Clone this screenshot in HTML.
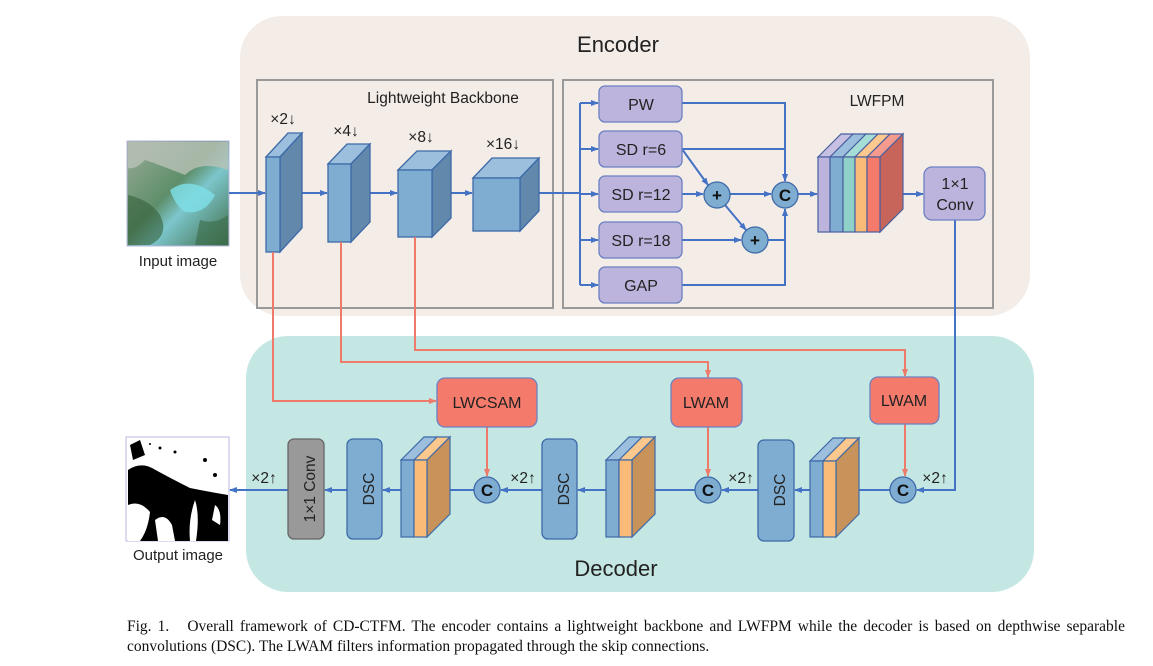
<!DOCTYPE html>
<html><head><meta charset="utf-8"><style>
html,body{margin:0;padding:0;background:#fff;}
svg{display:block;font-family:"Liberation Sans",sans-serif;}
.cap{position:absolute;left:127px;width:998px;font-family:"Liberation Serif",serif;font-size:15.5px;color:#111;text-align:justify;text-align-last:justify;line-height:20px;}
</style></head><body>
<div style="position:relative;width:1153px;height:666px;overflow:hidden">
<svg width="1153" height="666" viewBox="0 0 1153 666">
<defs>
<marker id="ab" markerWidth="8" markerHeight="8" refX="7" refY="4" orient="auto" markerUnits="userSpaceOnUse"><path d="M0,1 L8,4 L0,7 Z" fill="#4472c4"/></marker>
<marker id="ar" markerWidth="8" markerHeight="8" refX="7" refY="4" orient="auto" markerUnits="userSpaceOnUse"><path d="M0,1 L8,4 L0,7 Z" fill="#ee7b6a"/></marker>
<linearGradient id="gi" x1="0" y1="0" x2="1" y2="1"><stop offset="0" stop-color="#9aab98"/><stop offset="0.45" stop-color="#5e8f6a"/><stop offset="0.6" stop-color="#7cc6cc"/><stop offset="1" stop-color="#3f6b45"/></linearGradient>
</defs>
<rect x="240" y="16" width="790" height="300" rx="42" fill="#f3ece7"/>
<rect x="246" y="336" width="788" height="256" rx="42" fill="#c5e7e3"/>
<text x="618" y="52" font-size="22" text-anchor="middle" fill="#222">Encoder</text>
<text x="616" y="576" font-size="22" text-anchor="middle" fill="#222">Decoder</text>
<rect x="257" y="80" width="296" height="228" fill="none" stroke="#999" stroke-width="2"/>
<rect x="563" y="80" width="430" height="228" fill="none" stroke="#999" stroke-width="2"/>
<text x="443" y="103" font-size="15.5" text-anchor="middle" fill="#222">Lightweight Backbone</text>
<text x="877" y="106" font-size="15.5" text-anchor="middle" fill="#222">LWFPM</text>

<!-- input image -->
<rect x="127" y="141" width="102" height="105" fill="url(#gi)" stroke="#b8b8e0"/>
<path d="M128,142 L228,142 L228,170 Q200,160 185,175 Q160,165 145,160 Q135,170 128,168Z" fill="#b9c2b6" opacity=".8"/>
<path d="M170,190 Q190,175 215,195 Q205,215 185,212 Q175,205 170,190Z" fill="#7fe0e8" opacity=".8"/>
<path d="M128,195 Q150,200 160,215 Q170,235 150,245 L128,245Z" fill="#355f3a" opacity=".6"/>
<path d="M200,220 Q215,225 228,215 L228,245 L195,245Z" fill="#3b6a47" opacity=".6"/>
<text x="178" y="266" font-size="15" text-anchor="middle" fill="#222">Input image</text>
<!-- output image -->
<rect x="126" y="437" width="103" height="104" fill="#fff" stroke="#b8b8e0"/>
<path d="M128,470 Q140,462 152,468 Q170,478 190,488 Q210,492 228,495 L228,541 L128,541Z" fill="#000"/>
<path d="M130,445 L140,440 L145,455 L133,460Z" fill="#000"/>
<path d="M128,505 Q140,500 150,512 Q148,530 140,541 L128,541Z" fill="#fff"/>
<path d="M155,520 Q165,512 172,525 L175,541 L158,541Z" fill="#fff"/>
<path d="M195,500 Q200,515 196,541 L190,541 Q188,520 195,500Z" fill="#fff"/>
<path d="M215,505 Q222,510 220,525 L212,520Z" fill="#fff"/>
<g fill="#000"><circle cx="160" cy="448" r="1.5"/><circle cx="175" cy="452" r="1.5"/><circle cx="205" cy="460" r="2"/><circle cx="215" cy="475" r="2"/><circle cx="150" cy="444" r="1"/></g>
<text x="178" y="560" font-size="15" text-anchor="middle" fill="#222">Output image</text>

<!-- backbone lines -->
<g stroke="#4472c4" stroke-width="2" fill="none">
<line x1="229" y1="193" x2="265" y2="193" marker-end="url(#ab)"/>
<line x1="302" y1="193" x2="327" y2="193" marker-end="url(#ab)"/>
<line x1="370" y1="193" x2="397" y2="193" marker-end="url(#ab)"/>
<line x1="451" y1="193" x2="472" y2="193" marker-end="url(#ab)"/>
<line x1="539" y1="193" x2="580" y2="193"/>
<line x1="580" y1="103" x2="580" y2="285"/>
<line x1="580" y1="103" x2="598" y2="103" marker-end="url(#ab)"/>
<line x1="580" y1="149" x2="598" y2="149" marker-end="url(#ab)"/>
<line x1="580" y1="194" x2="598" y2="194" marker-end="url(#ab)"/>
<line x1="580" y1="240" x2="598" y2="240" marker-end="url(#ab)"/>
<line x1="580" y1="285" x2="598" y2="285" marker-end="url(#ab)"/>
<polyline points="682,103 785,103 785,181" marker-end="url(#ab)"/>
<line x1="682" y1="149" x2="785" y2="149"/>
<line x1="682" y1="149" x2="708" y2="185" marker-end="url(#ab)"/>
<line x1="682" y1="194" x2="703" y2="194" marker-end="url(#ab)"/>
<line x1="730" y1="194" x2="771" y2="194" marker-end="url(#ab)"/>
<line x1="725" y1="205" x2="746" y2="230" marker-end="url(#ab)"/>
<line x1="682" y1="240" x2="741" y2="240" marker-end="url(#ab)"/>
<polyline points="682,285 785,285 785,209" marker-end="url(#ab)"/>
<line x1="768" y1="240" x2="785" y2="240"/>
<line x1="798" y1="194" x2="817" y2="194" marker-end="url(#ab)"/>
<line x1="903" y1="194" x2="923" y2="194" marker-end="url(#ab)"/>
<polyline points="955,220 955,490 917,490" marker-end="url(#ab)"/>
<line x1="890" y1="490" x2="848" y2="490" marker-end="url(#ab)"/>
<line x1="810" y1="490" x2="795" y2="490" marker-end="url(#ab)"/>
<line x1="758" y1="490" x2="722" y2="490" marker-end="url(#ab)"/>
<line x1="695" y1="490" x2="644" y2="490" marker-end="url(#ab)"/>
<line x1="606" y1="490" x2="578" y2="490" marker-end="url(#ab)"/>
<line x1="542" y1="490" x2="501" y2="490" marker-end="url(#ab)"/>
<line x1="474" y1="490" x2="439" y2="490" marker-end="url(#ab)"/>
<line x1="401" y1="490" x2="383" y2="490" marker-end="url(#ab)"/>
<line x1="347" y1="490" x2="325" y2="490" marker-end="url(#ab)"/>
<line x1="288" y1="490" x2="230" y2="490" marker-end="url(#ab)"/>
</g>

<!-- cubes -->
<g stroke="#3d6aa8" stroke-width="1.3">
<polygon points="266,157 288,133 302,133 280,157" fill="#9bbfdc"/><polygon points="280,157 302,133 302,228 280,252" fill="#6289ab"/><rect x="266" y="157" width="14" height="95" fill="#7fadd1"/>
<polygon points="328,164 347,144 370,144 351,164" fill="#9bbfdc"/><polygon points="351,164 370,144 370,222 351,242" fill="#6289ab"/><rect x="328" y="164" width="23" height="78" fill="#7fadd1"/>
<polygon points="398,170 417,151 451,151 432,170" fill="#9bbfdc"/><polygon points="432,170 451,151 451,218 432,237" fill="#6289ab"/><rect x="398" y="170" width="34" height="67" fill="#7fadd1"/>
<polygon points="473,178 492,158 539,158 520,178" fill="#9bbfdc"/><polygon points="520,178 539,158 539,211 520,231" fill="#6289ab"/><rect x="473" y="178" width="47" height="53" fill="#7fadd1"/>
</g>
<g font-size="15.5" fill="#222" text-anchor="middle">
<text x="283" y="124">×2↓</text><text x="346" y="136">×4↓</text><text x="421" y="142">×8↓</text><text x="503" y="149">×16↓</text>
</g>

<!-- LWFPM boxes -->
<g fill="#bcb4dc" stroke="#6b80c2" stroke-width="1.3">
<rect x="599" y="86" width="83" height="36" rx="6"/>
<rect x="599" y="131" width="83" height="36" rx="6"/>
<rect x="599" y="176" width="83" height="36" rx="6"/>
<rect x="599" y="222" width="83" height="36" rx="6"/>
<rect x="599" y="267" width="83" height="36" rx="6"/>
<rect x="924" y="167" width="61" height="53" rx="8"/>
</g>
<g font-size="16" fill="#222" text-anchor="middle">
<text x="641" y="110">PW</text><text x="641" y="155">SD r=6</text><text x="641" y="200">SD r=12</text><text x="641" y="246">SD r=18</text><text x="641" y="291">GAP</text>
<text x="955" y="189">1×1</text><text x="955" y="210">Conv</text>
</g>
<g fill="#7fadd1" stroke="#3d6aa8" stroke-width="1.3">
<circle cx="717" cy="195" r="13"/><circle cx="755" cy="240" r="13"/><circle cx="785" cy="195" r="13"/>
<circle cx="487" cy="490" r="13"/><circle cx="708" cy="490" r="13"/><circle cx="903" cy="490" r="13"/>
</g>
<g font-size="17" font-weight="bold" fill="#111" text-anchor="middle">
<text x="717" y="201">+</text><text x="755" y="246">+</text><text x="785" y="201">C</text>
<text x="487" y="496">C</text><text x="708" y="496">C</text><text x="903" y="496">C</text>
</g>

<!-- color cube -->
<g stroke="#4a5fa0" stroke-width="1.2">
<polygon points="818,157 841,134 853,134 830,157" fill="#c6c0e2"/>
<polygon points="830,157 853,134 866,134 843,157" fill="#9bbfdc"/>
<polygon points="843,157 866,134 878,134 855,157" fill="#a6ddd6"/>
<polygon points="855,157 878,134 890,134 867,157" fill="#fcc88e"/>
<polygon points="867,157 890,134 903,134 880,157" fill="#f59b8e"/>
<polygon points="880,157 903,134 903,209 880,232" fill="#c8655a"/>
<rect x="818" y="157" width="12" height="75" fill="#bcb4dc"/>
<rect x="830" y="157" width="13" height="75" fill="#7fadd1"/>
<rect x="843" y="157" width="12" height="75" fill="#8fd0c8"/>
<rect x="855" y="157" width="12" height="75" fill="#fbbb78"/>
<rect x="867" y="157" width="13" height="75" fill="#f47b6b"/>
</g>

<!-- red skip lines -->
<g stroke="#ee7b6a" stroke-width="2" fill="none">
<polyline points="273,252 273,401 436,401" marker-end="url(#ar)"/>
<polyline points="341,242 341,362 708,362 708,377" marker-end="url(#ar)"/>
<polyline points="415,237 415,350 905,350 905,376" marker-end="url(#ar)"/>
<line x1="487" y1="427" x2="487" y2="476" marker-end="url(#ar)"/>
<line x1="708" y1="427" x2="708" y2="476" marker-end="url(#ar)"/>
<line x1="905" y1="424" x2="905" y2="476" marker-end="url(#ar)"/>
</g>
<g fill="#f47b6b" stroke="#6b80c2" stroke-width="1.3">
<rect x="437" y="378" width="100" height="49" rx="8"/>
<rect x="671" y="378" width="71" height="49" rx="8"/>
<rect x="870" y="377" width="69" height="47" rx="8"/>
</g>
<g font-size="16" fill="#222" text-anchor="middle">
<text x="487" y="408">LWCSAM</text><text x="706" y="408">LWAM</text><text x="904" y="406">LWAM</text>
</g>

<!-- decoder blocks -->
<g stroke="#3d6aa8" stroke-width="1.3">
<rect x="288" y="439" width="36" height="100" rx="6" fill="#999" stroke="#666"/>
<rect x="347" y="439" width="35" height="100" rx="6" fill="#7fadd1"/>
<rect x="542" y="439" width="35" height="100" rx="6" fill="#7fadd1"/>
<rect x="758" y="440" width="36" height="101" rx="6" fill="#7fadd1"/>
</g>
<g font-size="15.5" fill="#222" text-anchor="middle">
<text transform="translate(311,489) rotate(-90)" dominant-baseline="middle">1×1 Conv</text>
<text transform="translate(370,489) rotate(-90)" dominant-baseline="middle">DSC</text>
<text transform="translate(565,489) rotate(-90)" dominant-baseline="middle">DSC</text>
<text transform="translate(781,490) rotate(-90)" dominant-baseline="middle">DSC</text>
<text x="264" y="483">×2↑</text><text x="523" y="483">×2↑</text><text x="741" y="483">×2↑</text><text x="935" y="483">×2↑</text>
</g>
<g stroke="#3d6aa8" stroke-width="1.2">
<polygon points="401,460 424,437 437,437 414,460" fill="#9bbfdc"/><polygon points="414,460 437,437 450,437 427,460" fill="#fcc88e"/><polygon points="427,460 450,437 450,514 427,537" fill="#c8935a"/><rect x="401" y="460" width="13" height="77" fill="#7fadd1"/><rect x="414" y="460" width="13" height="77" fill="#fbbb78"/>
<polygon points="606,460 629,437 642,437 619,460" fill="#9bbfdc"/><polygon points="619,460 642,437 655,437 632,460" fill="#fcc88e"/><polygon points="632,460 655,437 655,514 632,537" fill="#c8935a"/><rect x="606" y="460" width="13" height="77" fill="#7fadd1"/><rect x="619" y="460" width="13" height="77" fill="#fbbb78"/>
<polygon points="810,461 833,438 846,438 823,461" fill="#9bbfdc"/><polygon points="823,461 846,438 859,438 836,461" fill="#fcc88e"/><polygon points="836,461 859,438 859,514 836,537" fill="#c8935a"/><rect x="810" y="461" width="13" height="76" fill="#7fadd1"/><rect x="823" y="461" width="13" height="76" fill="#fbbb78"/>
</g>
</svg>
<div class="cap" style="top:617px">Fig. 1.&nbsp;&nbsp; Overall framework of CD-CTFM. The encoder contains a lightweight backbone and LWFPM while the decoder is based on depthwise separable</div>
<div class="cap" style="top:637px;text-align-last:left">convolutions (DSC). The LWAM filters information propagated through the skip connections.</div>
</div>
</body></html>
